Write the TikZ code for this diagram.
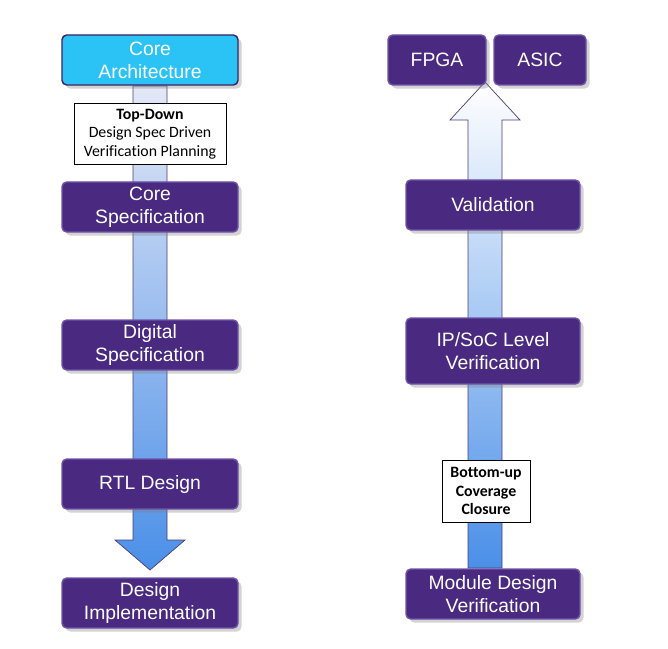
\documentclass[tikz,border=0pt]{standalone}
\usepackage{fontspec}
\setmainfont{Liberation Sans}
\newfontfamily\callab[Ligatures={NoCommon}]{Carlito}
\usetikzlibrary{shadows}
\definecolor{pur}{HTML}{4A2A80}
\definecolor{purb}{HTML}{6E55A8}
\definecolor{cyanf}{HTML}{2BC3F5}
\definecolor{arrb}{HTML}{4A8FE8}
\definecolor{arrt}{HTML}{E4E8F6}
\begin{document}
\begin{tikzpicture}[x=0.03cm,y=-0.03cm,
 box/.style={draw=purb,line width=1.2pt,fill=pur,rounded corners=4pt,text=white,font=\fontsize{16.5}{19.5}\selectfont,align=center,minimum height=50*0.03cm,inner sep=1pt,drop shadow={opacity=0.35,shadow xshift=3pt,shadow yshift=-3pt}},
 lbl/.style={draw=black,fill=white,align=center,font=\callab\fontsize{13.5}{16}\selectfont,inner sep=2pt}]
\useasboundingbox (0,0) rectangle (668,649);
% left arrow
\shade[top color=arrt,bottom color=arrb,draw=purb!70!black,line width=0.6pt]
 (133,86) -- (167,86) -- (167,540) -- (185,540) -- (150,570) -- (115,540) -- (133,540) -- cycle;
% right arrow
\shade[bottom color=arrb,top color=white,draw=purb!70!black,line width=0.6pt]
 (468,568) -- (502,568) -- (502,120) -- (520,120) -- (485,82) -- (450,120) -- (468,120) -- cycle;
% left nodes
\node[box,fill=cyanf,draw=pur!80!black,minimum width=176*0.03cm] (ca) at (150,60) {Core\\Architecture};
\node[box,minimum width=176*0.03cm] (cs) at (150,207) {Core\\Specification};
\node[box,minimum width=176*0.03cm] (ds) at (150,345) {Digital\\Specification};
\node[box,minimum width=176*0.03cm] (rtl) at (150,484) {RTL Design};
\node[box,minimum width=176*0.03cm] (di) at (150,603) {Design\\Implementation};
\node[lbl,minimum width=152*0.03cm,minimum height=61*0.03cm] (td) at (150,134) {\textbf{Top-Down}\\Design Spec Driven\\Verification Planning};
% right nodes
\node[box,minimum width=98*0.03cm] (fpga) at (437,60) {FPGA};
\node[box,minimum width=92*0.03cm] (asic) at (540,60) {ASIC};
\node[box,minimum width=174*0.03cm] (val) at (493,205) {Validation};
\node[box,minimum width=174*0.03cm,minimum height=66*0.03cm] (ip) at (493,351) {IP/SoC Level\\Verification};
\node[box,minimum width=174*0.03cm] (mdv) at (493,594) {Module Design\\Verification};
\node[lbl,minimum width=88*0.03cm,minimum height=62*0.03cm] (bu) at (486,491) {\textbf{Bottom-up}\\\textbf{Coverage}\\\textbf{Closure}};
\end{tikzpicture}
\end{document}
